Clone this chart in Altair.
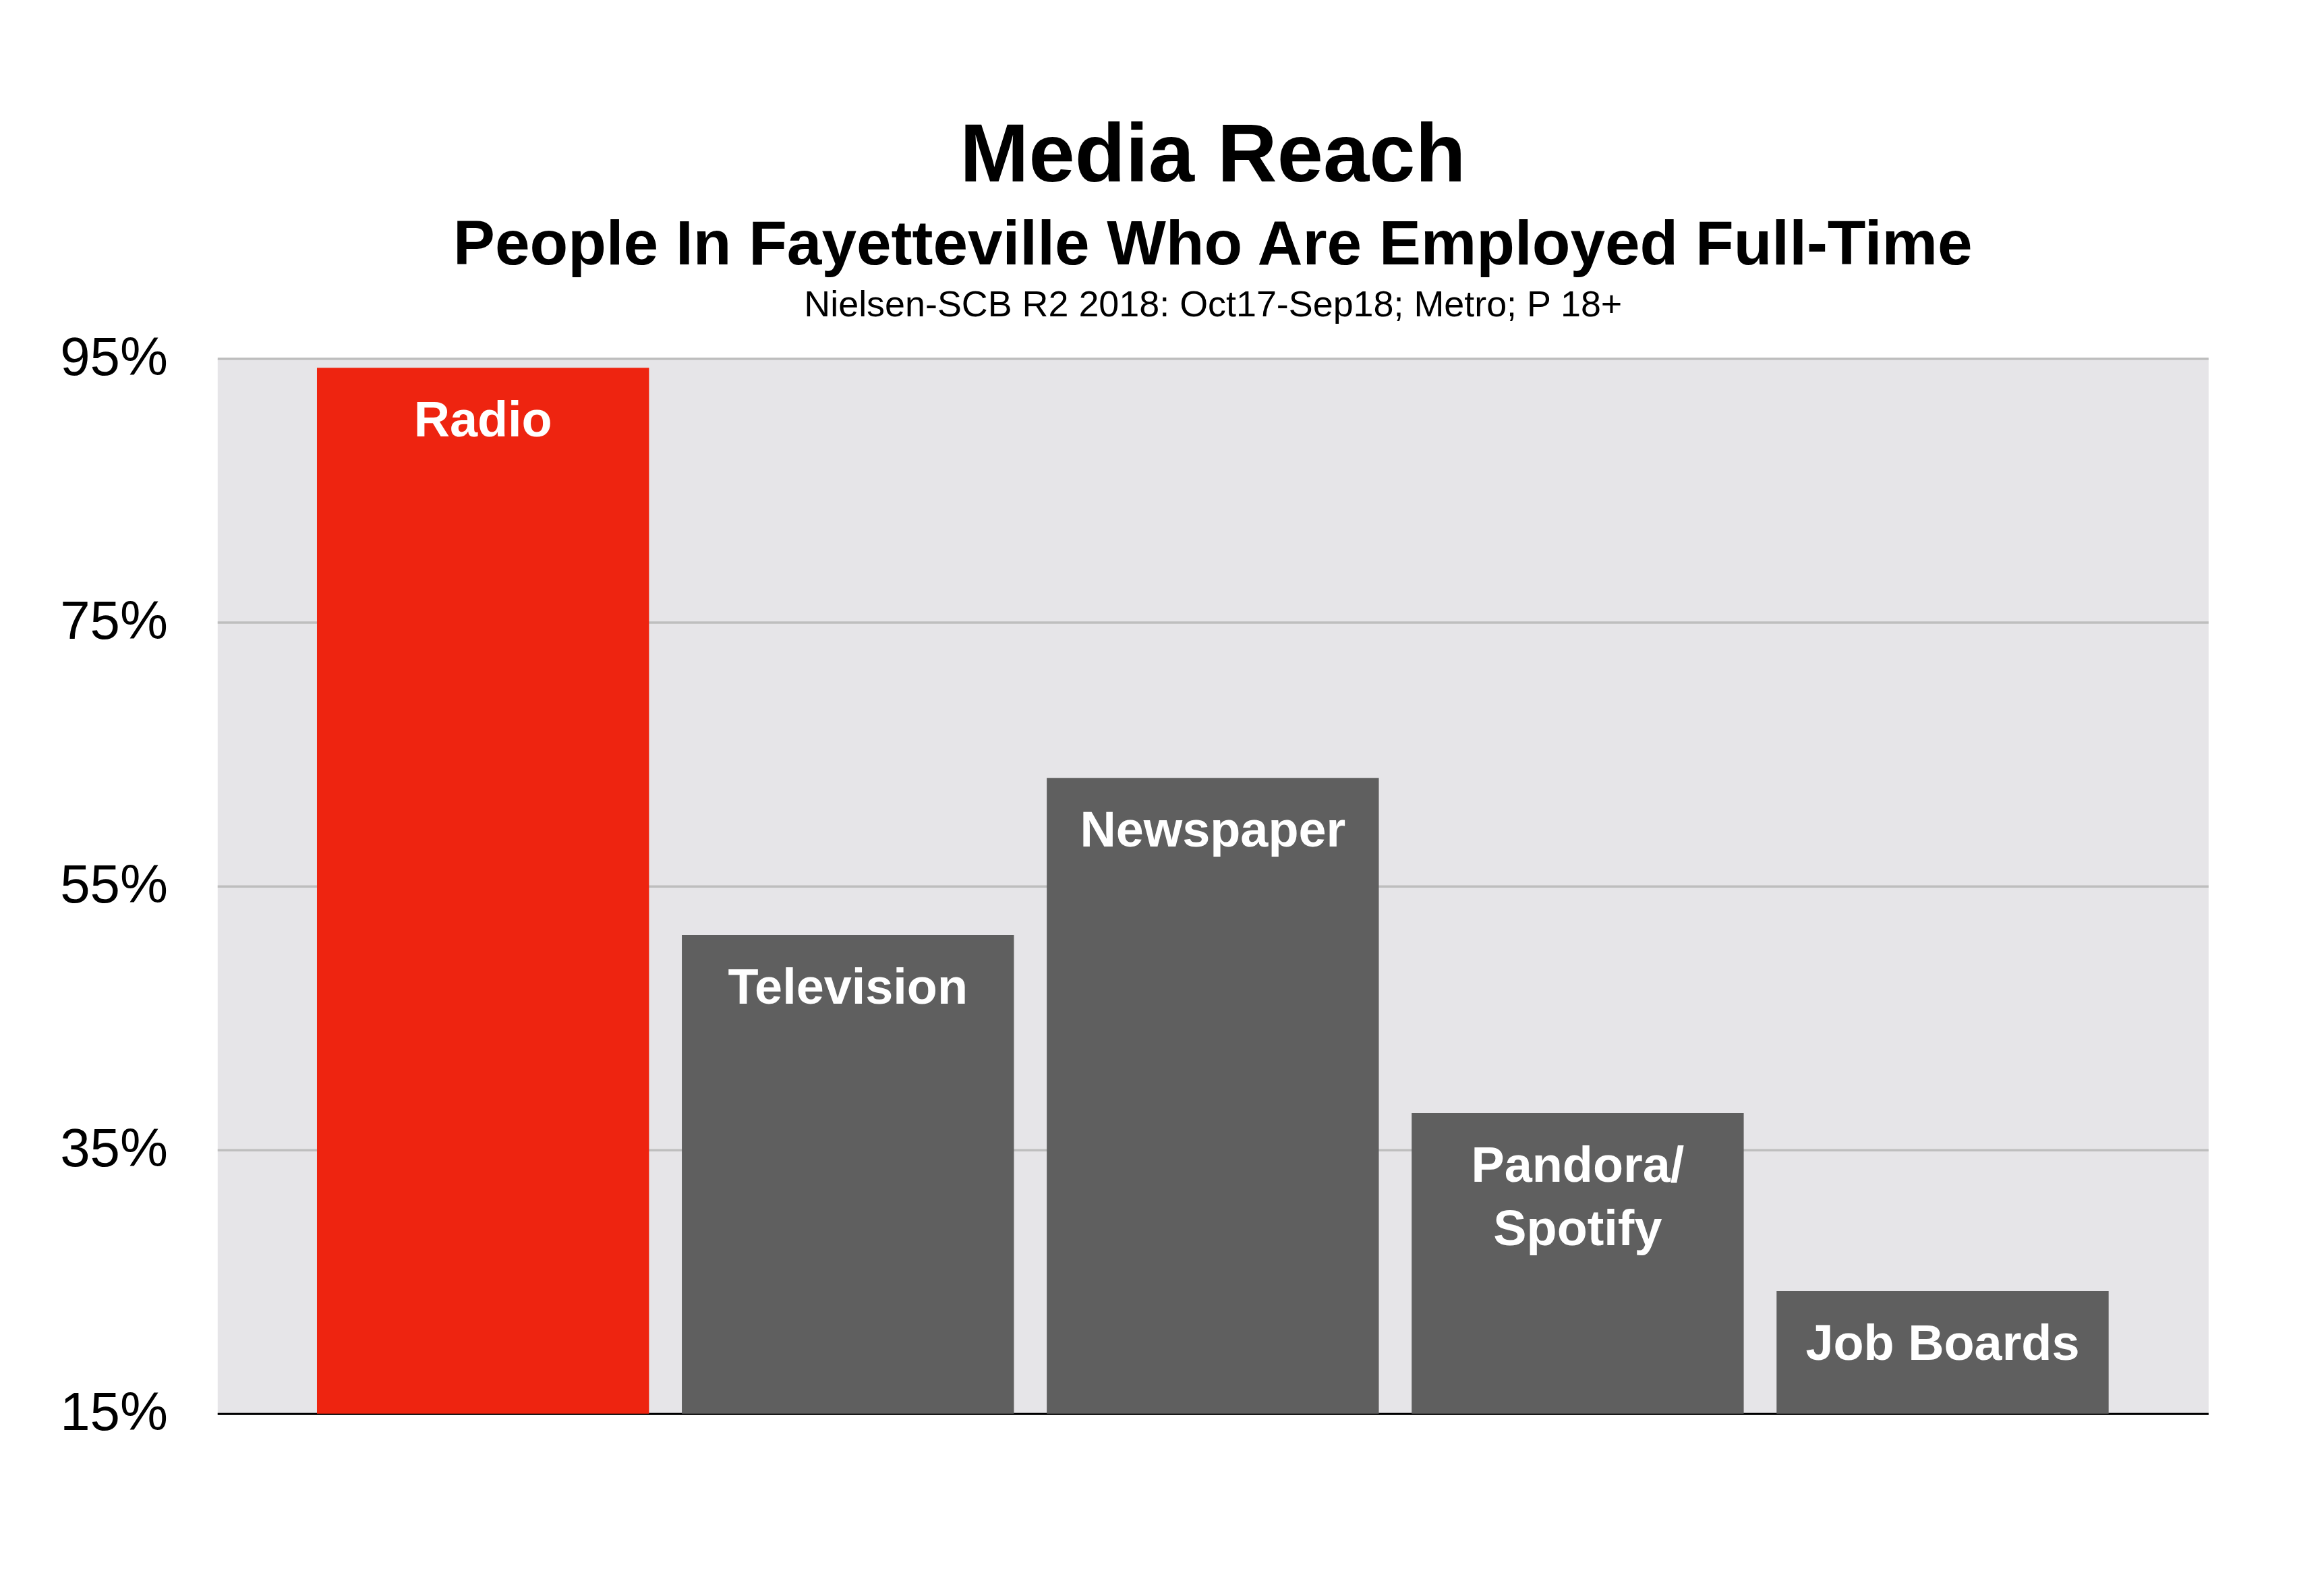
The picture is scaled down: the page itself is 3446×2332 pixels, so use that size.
import altair as alt
import pandas as pd

# ---- data ----
media = ["Radio", "Television", "Newspaper", "Pandora/Spotify", "Job Boards"]
bar_labels = ["Radio", "Television", "Newspaper", "Pandora/\nSpotify", "Job Boards"]
reach = [94.3, 51.3, 63.2, 37.8, 24.3]
y_ticks = [15, 35, 55, 75, 95]

TITLE = "Media Reach"
SUBTITLE = "People In Fayetteville Who Are Employed Full-Time"
SOURCE = "Nielsen-SCB R2 2018: Oct17-Sep18; Metro; P 18+"

RED = "#EE2410"
GREY = "#5F5F5F"
BG = "#E6E5E8"
GRID = "#BEBEBE"
FONT = "Liberation Sans"

df = pd.DataFrame({"media": media, "label": bar_labels, "reach": reach})

x_enc = alt.X(
    "media:N",
    sort=media,
    scale=alt.Scale(paddingInner=0.09, paddingOuter=0.273),
)
y_scale = alt.Scale(domain=[15, 95], zero=False, nice=False, clamp=True)

bars = alt.Chart(df).mark_bar().encode(
    x=x_enc.axis(
        orient="bottom",
        title=None,
        labels=False,
        ticks=False,
        grid=False,
        domain=True,
        domainColor="black",
        domainWidth=3,
    ),
    y=alt.Y("reach:Q", scale=y_scale).axis(
        title=None,
        values=y_ticks,
        labelExpr="datum.value + '%'",
        labelFont=FONT,
        labelFontSize=80,
        labelColor="black",
        labelPadding=74,
        ticks=False,
        tickSize=0,
        domain=False,
        grid=True,
        gridColor=GRID,
        gridWidth=3.5,
    ),
    color=alt.condition(alt.datum.media == "Radio", alt.value(RED), alt.value(GREY)),
)

labels = alt.Chart(df).mark_text(
    font=FONT,
    fontSize=74,
    fontWeight="bold",
    color="white",
    baseline="alphabetic",
    align="center",
    dy=102,
    lineBreak="\n",
    lineHeight=94,
).encode(
    x=x_enc.axis(
        orient="top",
        title=SOURCE,
        titleFont=FONT,
        titleFontSize=54,
        titleFontWeight="normal",
        titleColor="black",
        titlePadding=52,
        labels=False,
        ticks=False,
        domain=False,
        grid=False,
    ),
    y=alt.Y("reach:Q", scale=y_scale),
    text="label:N",
)

chart = (
    alt.layer(bars, labels)
    .resolve_axis(x="independent")
    .properties(
        width=2959,
        height=1568,
        background="white",
        autosize=alt.AutoSizeParams(type="none"),
        padding={"left": 315, "top": 522, "right": 164, "bottom": 220},
        title=alt.TitleParams(
            text=TITLE,
            subtitle=SUBTITLE,
            font=FONT,
            fontSize=123,
            fontWeight="bold",
            color="black",
            subtitleFont=FONT,
            subtitleFontSize=93,
            subtitleFontWeight="bold",
            subtitleColor="black",
            subtitlePadding=24,
            anchor="middle",
            frame="group",
            offset=14,
        ),
    )
    .configure_view(fill=BG, strokeOpacity=0)
)

chart.save("out.html", embed_options={"renderer": "svg", "actions": False})
